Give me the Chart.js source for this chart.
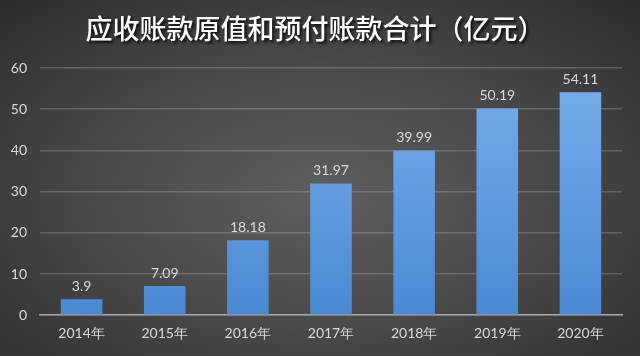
<!DOCTYPE html>
<html><head><meta charset="utf-8">
<script src="https://cdn.jsdelivr.net/npm/chart.js@4.4.0/dist/chart.umd.min.js"></script>
<style>
html,body{margin:0;padding:0;}
body{width:640px;height:356px;overflow:hidden;background:radial-gradient(ellipse 75% 80% at 50% 55%, #5e5e5e 0%, #4a4a4a 45%, #2a2a2a 100%);}
#wrap{position:relative;width:640px;height:356px;}
</style></head><body>
<div id="wrap"><canvas id="c" width="640" height="356"></canvas></div>
<script>
const titleText = "应收账款原值和预付账款合计（亿元）";
const categories = ["2014年","2015年","2016年","2017年","2018年","2019年","2020年"];
const values = [3.9, 7.09, 18.18, 31.97, 39.99, 50.19, 54.11];
const valueLabels = ["3.9","7.09","18.18","31.97","39.99","50.19","54.11"];

const overlay = {
  id:'overlay',
  afterDraw(chart){
    const ctx = chart.ctx;
    ctx.save();
    ctx.font = '500 27px "Noto Sans CJK SC"';
    ctx.textAlign='center'; ctx.textBaseline='middle';
    ctx.shadowColor='rgba(0,0,0,0.85)'; ctx.shadowOffsetX=2; ctx.shadowOffsetY=2; ctx.shadowBlur=3;
    ctx.fillStyle='#ffffff';
    ctx.fillText(titleText, 315, 29);
    ctx.restore();
    const meta = chart.getDatasetMeta(0);
    ctx.save();
    ctx.font = '14px Lato';
    ctx.fillStyle='#d9d9d9';
    ctx.textAlign='center'; ctx.textBaseline='bottom';
    meta.data.forEach((bar,i)=>{
      ctx.fillText(valueLabels[i], bar.x, bar.y - 6);
    });
    ctx.restore();
  }
};

const ctx = document.getElementById('c').getContext('2d');
new Chart(ctx,{
  type:'bar',
  data:{labels:categories,datasets:[{data:values,
    backgroundColor(c){
      const ch=c.chart; const a=ch.chartArea; if(!a) return '#5b9bd5';
      const g=ch.ctx.createLinearGradient(0,a.top,0,a.bottom);
      g.addColorStop(0,'#78aeea'); g.addColorStop(1,'#4a8ad3');
      return g;
    },
    borderWidth:0, barPercentage:0.5, categoryPercentage:1}]},
  options:{
    responsive:false, animation:false,
    layout:{padding:{top:68,right:18,left:0,bottom:4}},
    plugins:{legend:{display:false},tooltip:{enabled:false},title:{display:false}},
    scales:{
      x:{grid:{display:false,drawTicks:false},border:{display:true,color:'#a6a6a6',width:1.5},
        ticks:{color:'#d9d9d9',font:{family:'Lato',size:14},padding:10}},
      y:{min:0,max:60,grid:{color:'rgba(255,255,255,0.18)',lineWidth:1.5,drawTicks:false},
        border:{display:false},
        ticks:{stepSize:10,color:'#d9d9d9',font:{family:'Lato',size:14},padding:13},
        afterFit(s){s.width=40;}}
    }
  },
  plugins:[overlay]
});
</script></body></html>
